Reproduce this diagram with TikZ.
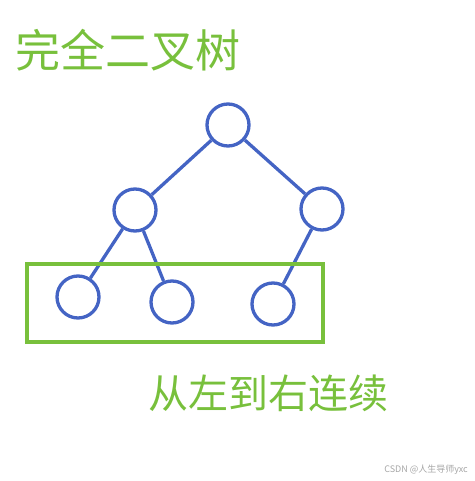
\documentclass[tikz,border=0pt]{standalone}
\usepackage{fontspec}
\newfontfamily\cjk{Noto Sans CJK SC}
\usetikzlibrary{positioning}
\definecolor{treeblue}{RGB}{68,100,196}
\definecolor{markgreen}{RGB}{120,192,60}

\begin{document}
\begin{tikzpicture}[
        x=1pt,y=-1pt,
        every node/.style={inner sep=0pt},
        vertex/.style={circle, draw=treeblue, line width=3.3pt, minimum size=42pt},
        branch/.style={draw=treeblue, line width=3.3pt},
        note/.style={text=markgreen, font=\cjk\fontsize{40}{44}\selectfont},
        ]
        \useasboundingbox (0,0) rectangle (474,481);

        % title and remark
        \node[note, font=\cjk\fontsize{45}{48}\selectfont] (title) at (128,50) {完全二叉树};
        \node[note]                      (remark) at (268,393) {从左到右连续};

        % the tree
        \node[vertex]                    (root)   at (228,125) {};
        \node[vertex]                    (lc)     at (135,210) {};
        \node[vertex]                    (rc)     at (322,209) {};
        \node[vertex]                    (leaf1)  at (78,297)  {};
        \node[vertex]                    (leaf2)  at (172,302) {};
        \node[vertex]                    (leaf3)  at (273,304) {};
        \path[branch] (root) edge (lc)
        (root) edge (rc)
        (lc) edge (leaf1)
        (lc) edge (leaf2)
        (rc) edge (leaf3);

        % last level box
        \draw[markgreen, line width=3.3pt] (27,264) rectangle (323,342);

        \node[text=gray!70, font=\cjk\fontsize{9}{10}\selectfont, anchor=east]
             (mark) at (468,470) {CSDN @人生导师yxc};
      \end{tikzpicture}
\end{document}
